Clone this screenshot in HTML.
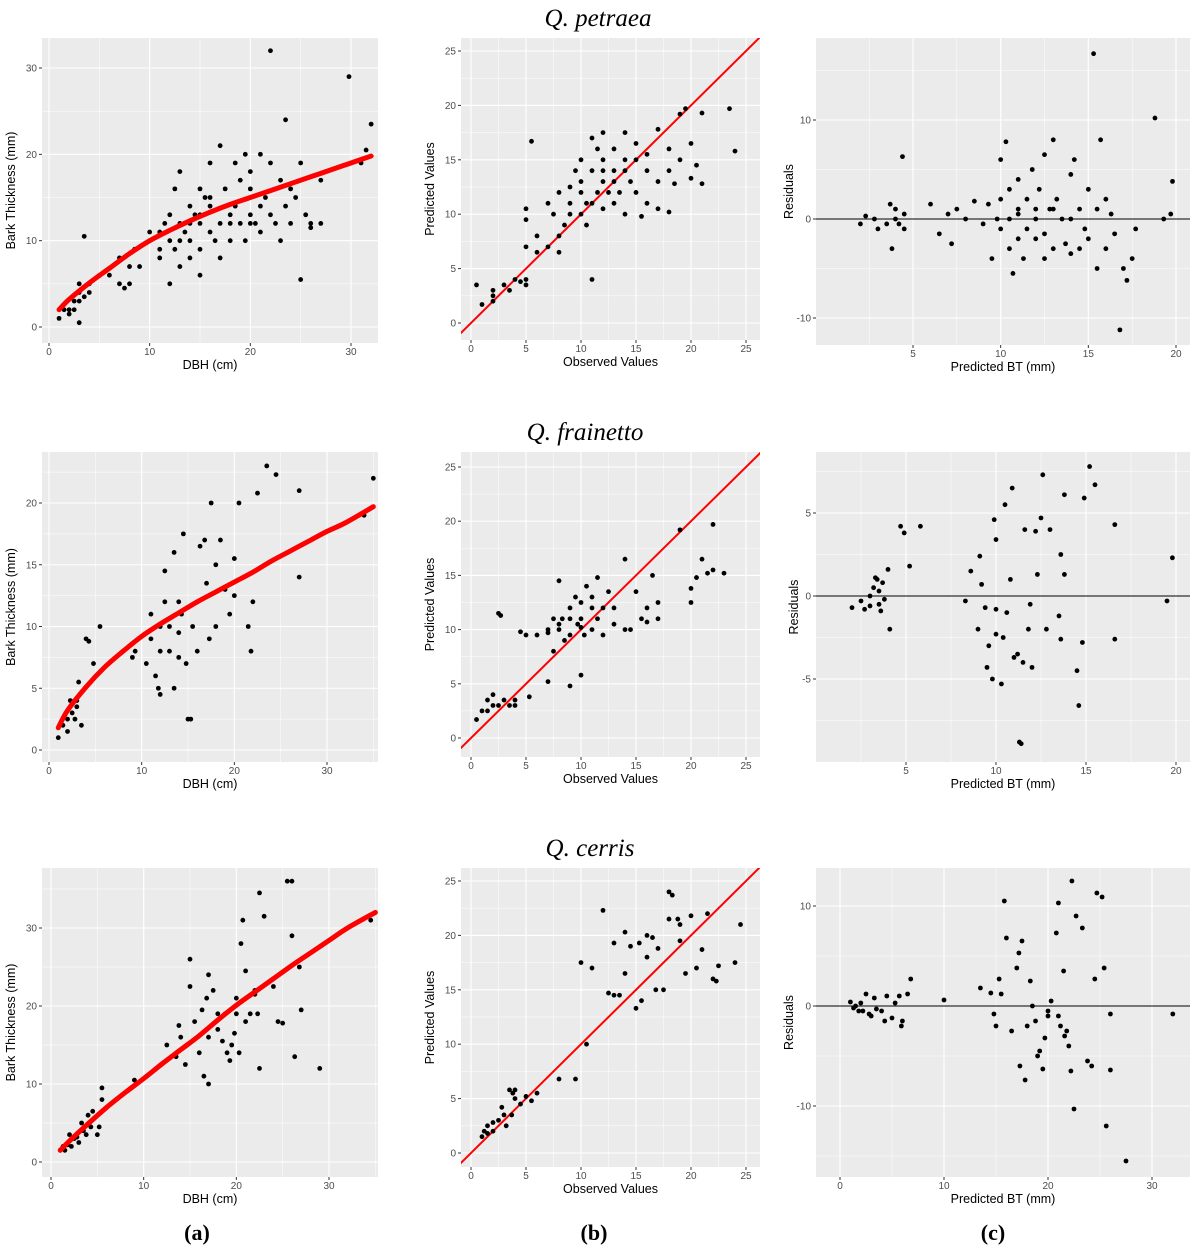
<!DOCTYPE html>
<html><head><meta charset="utf-8"><style>
body{margin:0;background:#fff}
svg{display:block}
.tk{font-family:"Liberation Sans",sans-serif;font-size:10px;fill:#4D4D4D}
.at{font-family:"Liberation Sans",sans-serif;font-size:12.5px;fill:#000}
.tt{font-family:"Liberation Serif",serif;font-size:25px;font-style:italic;fill:#000}
.pl{font-family:"Liberation Serif",serif;font-size:22px;font-weight:bold;fill:#000}
</style></head><body>
<svg id="fig" width="1200" height="1253" xmlns="http://www.w3.org/2000/svg">
<text class="tt" x="598" y="26" text-anchor="middle">Q. petraea</text>
<text class="tt" x="585" y="440" text-anchor="middle">Q. frainetto</text>
<text class="tt" x="590" y="856" text-anchor="middle">Q. cerris</text>
<text class="pl" x="197" y="1240" text-anchor="middle">(a)</text>
<text class="pl" x="594" y="1240" text-anchor="middle">(b)</text>
<text class="pl" x="993" y="1240" text-anchor="middle">(c)</text>
</svg>
<script>
const a1Pts=[[1,1],[1.5,2],[2,2],[2.5,2],[2.5,3],[3,0.5],[3,4],[3,5],[3.5,3.5],[3.5,10.5],[4,4],[4,5],[3,3],[2,1.5],[6,6],[7,8],[7,5],[7.5,4.5],[8,7],[8,5],[8.5,9],[9,7],[10,10],[11,8],[11,11],[11,9],[11.5,12],[12,5],[12,10],[12.5,16],[12.5,9],[13,18],[13,12],[13,7],[13.5,11],[14,14],[14,8],[14,10],[14.5,13],[15,16],[15,12],[15,6],[15,9],[15.5,15],[16,11],[16,19],[16,14],[16.5,10],[17,12],[17,21],[17,8],[17.5,16],[18,13],[18,10],[18.5,19],[18.5,14],[19,12],[19,17],[19.5,20],[19.5,10],[20,13],[20,16],[20,18],[20.5,12],[21,14],[21,20],[21,11],[21.5,15],[22,32],[22,19],[22,13],[22.5,12],[23,17],[23,10],[23.5,24],[23.5,14],[24,16],[24,12],[24.5,15],[25,19],[25,5.5],[25.5,13],[26,12],[26,11.5],[27,17],[27,12],[29.8,29],[31,19],[31.5,20.5],[32,23.5],[20,12],[18,12],[15,13],[14,12],[13,10],[12,13],[16,15],[10,11]];
const a1FitX=[1,2,4,6,8,10,12,14,16,18,20,22,24,26,28,30,32];
const a1FitY=[2,3.2,5.1,6.8,8.5,10,11.2,12.3,13.3,14.2,15,15.8,16.6,17.4,18.2,19,19.8];
const b1Pts=[[0.5,3.5],[1,1.7],[2,2],[2,3],[2,2.5],[3,3.5],[3.5,3],[4,4],[4.5,3.8],[5,3.5],[5,4],[5,7],[5,9.5],[5,10.5],[5.5,16.7],[6,8],[6,6.5],[7,7],[7,11],[7.5,10],[8,6.5],[8,8],[8,12],[8.5,9],[9,12.5],[9,10],[9,11],[9.5,14],[10,10],[10,13],[10,15],[10.5,9],[10.5,11],[11,4],[11,11],[11,14],[11,17],[11.5,12],[11.5,16],[12,10.5],[12,13],[12,15],[12,17.5],[12.5,12],[13,14],[13,16],[13,11],[13.5,12],[14,15],[14,10],[14,17.5],[14.5,13],[15,15],[15,12],[15,16.5],[15.5,9.8],[16,11],[16,14],[16,15.5],[17,13],[17,10.5],[17,17.8],[18,14],[18,10.2],[18,16],[18.5,12.8],[19,19.2],[19,15],[19.5,19.7],[20,16.5],[20,13.3],[20.5,14.5],[21,12.8],[21,19.3],[23.5,19.7],[24,15.8],[13,13],[12,14],[10,12],[14,14]];
const c1Pts=[[2,-0.5],[2.3,0.3],[2.8,0],[3,-1],[3.5,-0.5],[3.7,1.5],[3.8,-3],[4,0],[4,1],[4.2,-0.5],[4.4,6.3],[4.5,0.5],[4.5,-1],[6,1.5],[6.5,-1.5],[7,0.5],[7.2,-2.5],[7.5,1],[8,0],[8.5,1.8],[9,-0.5],[9.3,1.5],[9.5,-4],[9.8,0],[10,6],[10,2],[10,-1],[10.3,7.8],[10.5,-3],[10.5,3],[10.7,-5.5],[11,1],[11,-2],[11,4],[11.3,-4],[11.5,2],[11.5,-1],[11.8,5],[12,0],[12,-2],[12.2,3],[12.5,-4],[12.5,6.5],[12.8,1],[13,8],[13,-3],[13.2,2],[13.5,0],[13.7,-2.5],[14,4.5],[14,-3.5],[14.2,6],[14.5,1],[14.5,-3],[14.8,-1],[15,3],[15,-2],[15.3,16.7],[15.5,-5],[15.5,1],[15.7,8],[16,-3],[16,2],[16.3,0.5],[16.5,-1.5],[16.8,-11.2],[17,-5],[17.2,-6.2],[17.5,-4],[17.7,-1],[18.8,10.2],[19.3,0],[19.7,0.5],[19.8,3.8],[12,1],[11,0.5],[10.5,0],[13,1],[14,0],[12.5,-1.5]];
const a2Pts=[[1,1],[1.5,2],[2,1.5],[2,2.5],[2.3,4],[2.5,3],[2.8,2.5],[3,4],[3,3.5],[3.2,5.5],[3.5,2],[4,9],[4.3,8.8],[4.8,7],[5.5,10],[9,7.5],[9.3,8],[10.5,7],[11,11],[11.5,6],[11.8,5],[12,4.5],[12,10],[12.5,14.5],[12.5,12],[13,10],[13.5,16],[13.5,5],[14,9.5],[14,12],[14.3,11],[14.5,17.5],[14.8,7],[15,2.5],[15.3,2.5],[15.5,10],[16,8],[16.3,16.5],[16.8,17],[17,13.5],[17.3,9],[17.5,20],[18,15],[18.5,17],[19,13],[19.5,11],[20,12.5],[20.5,20],[21.5,10],[21.8,8],[22,12],[22.5,20.8],[23.5,23],[24.5,22.3],[27,21],[27,14],[34,19],[35,22],[13,8],[14,7.5],[16,12],[12,8],[11,9],[18,10],[20,15.5]];
const a2FitX=[1,2,4,6,8,10,12,14,16,18,20,22,24,26,28,30,32,35];
const a2FitY=[1.8,3.2,5.1,6.7,8.0,9.2,10.2,11.1,12,12.8,13.6,14.4,15.3,16.1,16.9,17.7,18.4,19.7];
const b2Pts=[[0.5,1.7],[1,2.5],[1.5,2.5],[1.5,3.5],[2,3],[2,4],[2.5,3],[2.5,11.5],[2.7,11.3],[3,3.5],[3.5,3],[4,3.5],[4,3],[4.5,9.8],[5,9.5],[5.3,3.8],[6,9.5],[7,5.2],[7,9.7],[7.5,11],[7.5,8],[8,10],[8,14.5],[8.3,11],[8.5,9],[9,4.8],[9,12],[9,9.5],[9.5,13],[9.7,10.5],[10,5.8],[10,11],[10,12.5],[10.3,9.5],[10.5,14],[11,13],[11,10],[11.5,14.8],[11.5,11],[12,12],[12,9.5],[12.5,13.5],[13,10.5],[13,12],[14,16.5],[14,10],[14.5,10],[15,13.5],[15.5,11],[16,12],[16,10.7],[16.5,15],[17,12.5],[17,11],[19,19.2],[20,12.5],[20,13.8],[20.5,14.8],[21,16.5],[21.5,15.2],[22,19.7],[22,15.5],[23,15.2],[8,10.5],[9,11],[10,10.2],[11,12],[7,10]];
const c2Pts=[[2,-0.7],[2.5,-0.3],[2.7,-0.8],[3,-0.6],[3,0],[3.2,0.5],[3.3,1.1],[3.5,-0.5],[3.6,-0.9],[3.7,0.8],[3.8,-0.2],[4,1.6],[4.1,-2],[3.5,0.3],[3.4,1],[4.7,4.2],[4.9,3.8],[5.2,1.8],[5.8,4.2],[8.3,-0.3],[8.6,1.5],[9,-2],[9.1,2.4],[9.2,0.7],[9.4,-0.7],[9.5,-4.3],[9.6,-3],[9.8,-5],[9.9,4.6],[10,-2.3],[10,3.4],[10,-0.8],[10.3,-5.3],[10.4,-2.5],[10.5,5.5],[10.6,-1],[10.8,1],[10.9,6.5],[11,-3.7],[11.2,-3.5],[11.3,-8.8],[11.4,-8.9],[11.5,-4],[11.6,4],[11.8,-2],[11.9,-0.5],[12,-4.3],[12.2,3.9],[12.3,1.3],[12.5,4.7],[12.6,7.3],[12.8,-2],[13,4],[13.5,-1.2],[13.6,-2.6],[13.8,6.1],[13.8,1.3],[13.6,2.5],[14.5,-4.5],[14.6,-6.6],[14.8,-2.8],[14.9,5.9],[15.2,7.8],[15.5,6.7],[16.6,4.3],[16.6,-2.6],[19.5,-0.3],[19.8,2.3]];
const a3Pts=[[1,1.5],[1.3,2],[1.5,1.5],[1.8,2.2],[2,3.5],[2.2,2],[2.5,3],[2.8,3.2],[3,2.5],[3.3,5],[3.5,4],[3.8,3.5],[4,6],[4.3,4.5],[4.5,6.5],[5,3.5],[5.2,4.5],[5.5,8],[5.5,9.5],[9,10.5],[12.5,15],[13.5,13.5],[13.8,17.5],[14,16],[14.5,12.5],[15,22.5],[15,26],[15.5,18],[16,14],[16.3,19.5],[16.5,11],[16.8,21],[17,10],[17,24],[17.5,22],[18,17],[18.5,15.5],[18.8,19],[19,14],[19.3,13],[19.5,15],[19.8,16.5],[20,19],[20.3,14],[20.5,28],[20.7,31],[21,24.5],[21,18],[21.5,19],[22,21.5],[22.3,19],[22.5,12],[22.5,34.5],[23,31.5],[24,22.5],[24.5,18],[25,17.8],[25.5,36],[26,36],[26,29],[26.3,13.5],[26.8,25],[27,19.5],[29,12],[34.5,31],[20,21],[18,19],[17,16],[22,22]];
const a3FitX=[1,2,4,6,8,10,12,14,16,18,20,22,24,26,28,30,32,35];
const a3FitY=[1.5,2.7,4.9,7,8.9,10.7,12.6,14.4,16.2,18.2,20.1,21.8,23.5,25.2,26.8,28.4,30,32];
const b3Pts=[[1,1.5],[1.2,2],[1.5,2.5],[1.5,1.8],[2,2],[2,2.8],[2.5,3],[2.8,4.2],[3,3.5],[3.2,2.5],[3.5,5.8],[3.7,3.5],[3.8,5.5],[4,5.8],[4,5],[4.5,4.5],[5,5.2],[5.5,4.8],[6,5.5],[8,6.8],[9.5,6.8],[10,17.5],[10.5,10],[11,17],[12,22.3],[12.5,14.7],[13,19.3],[13.5,14.5],[14,20.3],[14,16.5],[14.5,19],[15,13.3],[15.3,19.3],[15.5,14],[16,18],[16.5,19.8],[16.8,15],[17,18.8],[17.5,15],[18,21.5],[18,24],[18.3,23.7],[18.8,21.5],[19,21],[19,19.5],[19.5,16.5],[20,21.8],[20.5,17],[21,18.7],[21.5,22],[22,16],[22.5,17.2],[22.3,15.8],[24,17.5],[24.5,21],[16,20],[13,14.5]];
const c3Pts=[[1,0.4],[1.3,-0.2],[1.5,0],[1.8,-0.5],[2,0.3],[2.2,-0.5],[2.5,1.2],[2.8,-0.8],[3,-1],[3.3,0.8],[3.5,-0.3],[4,-0.5],[4.3,-1.5],[4.5,1],[5,-1.2],[5.3,0.3],[5.7,1],[5.9,-2],[6,-1.5],[6.5,1.2],[6.8,2.7],[10,0.6],[13.5,1.8],[14.5,1.3],[14.8,-0.8],[15,-2],[15.3,2.7],[15.5,1.2],[15.8,10.5],[16,6.8],[16.5,-2.5],[17,3.8],[17.2,5.3],[17.5,6.5],[17.8,-7.4],[17.3,-6],[18,-2],[18.3,2.5],[18.5,0],[18.8,-1.5],[19,-5],[19.2,-4.5],[19.5,-6.3],[19.7,-3.2],[20,-1],[20.3,0.5],[20.8,7.3],[21,10.3],[21.2,-2],[21.5,3.5],[21.6,-3],[21.8,-2.5],[22,-4],[22.2,-6.5],[22.3,12.5],[22.5,-10.3],[22.7,9],[23.3,7.8],[23.8,-5.5],[24.2,-6],[24.5,2.7],[24.7,11.3],[25.2,10.9],[25.4,3.8],[25.6,-12],[26,-6.4],[26,-0.8],[27.5,-15.5],[32,-0.8],[21,-1],[20,-0.5]];
const ticksA=[0,10,20,30];
const ticksA2y=[0,5,10,15,20];
const ticksB=[0,5,10,15,20,25];
const ticksC1x=[5,10,15,20];
const ticksC1y=[-10,0,10];
const ticksC2y=[-5,0,5];

const NS="http://www.w3.org/2000/svg";
const svg=document.getElementById('fig');
function mk(tag,attrs,parent){const e=document.createElementNS(NS,tag);for(const k in attrs)e.setAttribute(k,attrs[k]);(parent||svg).appendChild(e);return e;}
function smooth(P){let d='M'+P[0][0]+','+P[0][1];
  for(let i=0;i<P.length-1;i++){const p0=P[Math.max(0,i-1)],p1=P[i],p2=P[i+1],p3=P[Math.min(P.length-1,i+2)];
    const c1=[p1[0]+(p2[0]-p0[0])/6,p1[1]+(p2[1]-p0[1])/6],c2=[p2[0]-(p3[0]-p1[0])/6,p2[1]-(p3[1]-p1[1])/6];
    d+='C'+c1[0]+','+c1[1]+' '+c2[0]+','+c2[1]+' '+p2[0]+','+p2[1];}
  return d;}

let pid=0;
function panel(name,r,xm,ym,xt,yt,pts,opts){
  pid++;
  const [x0,y0,x1,y1]=r;
  const X=v=>xm[1]+(v-xm[0])*(xm[3]-xm[1])/(xm[2]-xm[0]);
  const Y=v=>ym[1]+(v-ym[0])*(ym[3]-ym[1])/(ym[2]-ym[0]);
  const g=mk('g',{});
  
  
  const cp=mk('clipPath',{id:'cp'+pid},g);
  mk('rect',{x:x0,y:y0,width:x1-x0,height:y1-y0},cp);
  const bg=mk('rect',{x:x0,y:y0,width:x1-x0,height:y1-y0,fill:'#EBEBEB'},g);
  
  
  const dx=xt[1]-xt[0], dy=yt[1]-yt[0];
  const xs=[xt[0]-dx/2,...xt.flatMap(v=>[v,v+dx/2])];
  const ys=[yt[0]-dy/2,...yt.flatMap(v=>[v,v+dy/2])];
  xs.forEach((v,i)=>{const px=X(v);if(px<x0||px>x1)return;mk('line',{x1:px,x2:px,y1:y0,y2:y1,stroke:'#fff','stroke-width':i%2?1.1:0.5},g);});
  ys.forEach((v,i)=>{const py=Y(v);if(py<y0||py>y1)return;mk('line',{x1:x0,x2:x1,y1:py,y2:py,stroke:'#fff','stroke-width':i%2?1.1:0.5},g);});
  const cg=mk('g',{'clip-path':'url(#cp'+pid+')'},g);
  if(opts.hline){const l=mk('line',{x1:x0,x2:x1,y1:Y(0),y2:Y(0),stroke:'#000','stroke-width':1},cg);
    
    }
  if(opts.diag){const l=mk('line',{x1:X(-5),y1:Y(-5),x2:X(40),y2:Y(40),stroke:'#FF0000','stroke-width':2},cg);
    
    }
  pts.forEach(p=>{const c=mk('circle',{cx:X(p[0]),cy:Y(p[1]),r:2.4,fill:'#000'},cg);
    
    });
  if(opts.fitX){const P=opts.fitX.map((v,i)=>[X(v),Y(opts.fitY[i])]);
    const f=mk('path',{d:smooth(P),fill:'none',stroke:'#FF0000','stroke-width':5,'stroke-linecap':'round'},cg);
    
    }
  xt.forEach(v=>{const px=X(v);mk('line',{x1:px,x2:px,y1:y1,y2:y1+3,stroke:'#333'},g);
    const t=mk('text',{x:px,y:y1+12,'text-anchor':'middle',class:'tk'},g);t.textContent=v;
    
    });
  yt.forEach(v=>{const py=Y(v);mk('line',{x1:x0-3,x2:x0,y1:py,y2:py,stroke:'#333'},g);
    const t=mk('text',{x:x0-5,y:py+3.5,'text-anchor':'end',class:'tk'},g);t.textContent=v;
    
    });
  const xtl=mk('text',{x:(x0+x1)/2,y:y1+26,'text-anchor':'middle',class:'at'},g);xtl.textContent=opts.xl;
  
  
  const yx=x0-(opts.ylo||25), yc=(y0+y1)/2;
  const ytl=mk('text',{x:yx,y:yc,'text-anchor':'middle',class:'at',transform:`rotate(-90 ${yx} ${yc})`},g);ytl.textContent=opts.yl;
  
  
}
const BT="Bark Thickness (mm)",DBH="DBH (cm)",PV="Predicted Values",OV="Observed Values",RS="Residuals",PB="Predicted BT (mm)";
panel('panel-a-petraea',[42,38,378,343],[0,49,30,351],[0,327,30,68],ticksA,ticksA,a1Pts,{fitX:a1FitX,fitY:a1FitY,xl:DBH,yl:BT,ylo:27});
panel('panel-b-petraea',[461,38,760,340],[0,471,25,746],[0,323,25,51],ticksB,ticksB,b1Pts,{diag:1,xl:OV,yl:PV,ylo:27});
panel('panel-c-petraea',[816,38,1190,345],[5,913,20,1176],[10,120,-10,318],ticksC1x,ticksC1y,c1Pts,{hline:1,xl:PB,yl:RS,ylo:23});
panel('panel-a-frainetto',[42,452,378,762],[0,49,30,327],[0,750,20,503],ticksA,ticksA2y,a2Pts,{fitX:a2FitX,fitY:a2FitY,xl:DBH,yl:BT,ylo:27});
panel('panel-b-frainetto',[461,452,760,757],[0,471,25,746],[0,738,25,467],ticksB,ticksB,b2Pts,{diag:1,xl:OV,yl:PV,ylo:27});
panel('panel-c-frainetto',[816,452,1190,762],[5,906,20,1176],[5,513,-5,679],ticksC1x,ticksC2y,c2Pts,{hline:1,xl:PB,yl:RS,ylo:18});
panel('panel-a-cerris',[42,868,378,1177],[0,51,30,329],[0,1162,30,928],ticksA,ticksA,a3Pts,{fitX:a3FitX,fitY:a3FitY,xl:DBH,yl:BT,ylo:27});
panel('panel-b-cerris',[461,868,760,1167],[0,471,25,746],[0,1153,25,881],ticksB,ticksB,b3Pts,{diag:1,xl:OV,yl:PV,ylo:27});
panel('panel-c-cerris',[816,868,1190,1177],[0,840,30,1152],[10,906,-10,1106],ticksA,ticksC1y,c3Pts,{hline:1,xl:PB,yl:RS,ylo:23});
</script>
</body></html>
